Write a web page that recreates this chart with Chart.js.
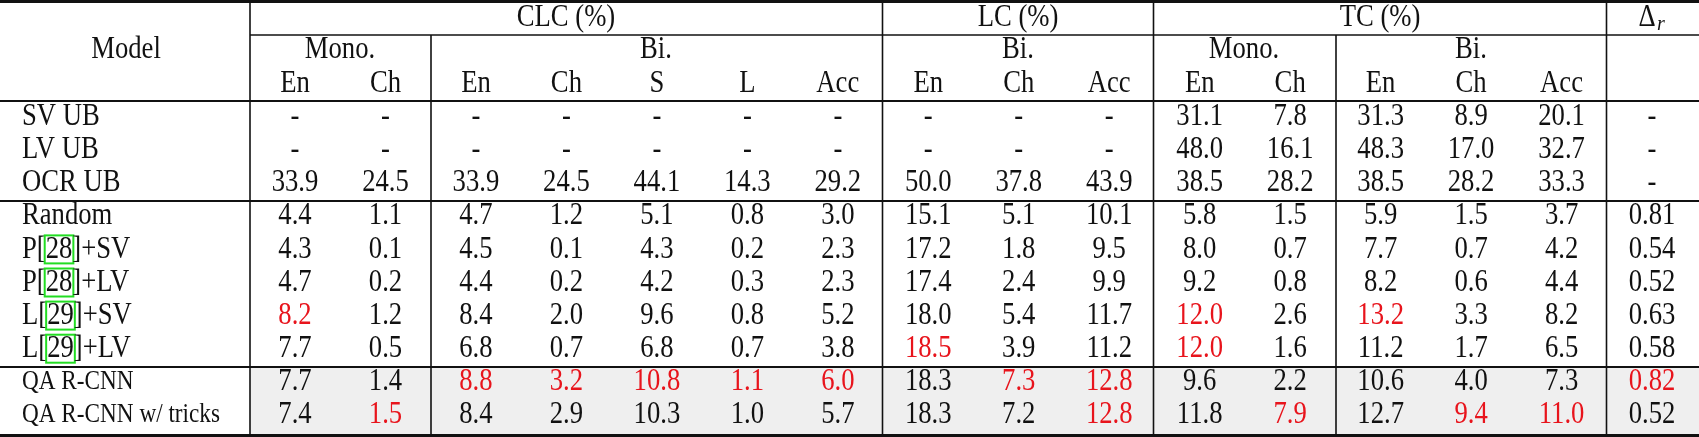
<!DOCTYPE html>
<html><head><meta charset="utf-8">
<script src="https://cdn.jsdelivr.net/npm/chart.js@4/dist/chart.umd.min.js"></script>
<style>html,body{margin:0;padding:0;background:#fff}#wrap{width:1699px;height:437px}</style>
</head><body><div id="wrap"><canvas id="c" width="1699" height="437"></canvas></div>
<script>
const subHeaders = ['En','Ch','En','Ch','S','L','Acc','En','Ch','Acc','En','Ch','En','Ch','Acc',''];
const labelPrefix = ['SV UB','LV UB','OCR UB','Random','P','P','L','L','QA R-CNN','QA R-CNN w/ tricks'];
const labelCite   = ['','','','','28','28','29','29','',''];
const labelSuffix = ['','','','','+SV','+LV','+SV','+LV','',''];
const svUB   = ['-','-','-','-','-','-','-','-','-','-','31.1','7.8','31.3','8.9','20.1','-'];
const lvUB   = ['-','-','-','-','-','-','-','-','-','-','48.0','16.1','48.3','17.0','32.7','-'];
const ocrUB  = ['33.9','24.5','33.9','24.5','44.1','14.3','29.2','50.0','37.8','43.9','38.5','28.2','38.5','28.2','33.3','-'];
const random = ['4.4','1.1','4.7','1.2','5.1','0.8','3.0','15.1','5.1','10.1','5.8','1.5','5.9','1.5','3.7','0.81'];
const p28sv  = ['4.3','0.1','4.5','0.1','4.3','0.2','2.3','17.2','1.8','9.5','8.0','0.7','7.7','0.7','4.2','0.54'];
const p28lv  = ['4.7','0.2','4.4','0.2','4.2','0.3','2.3','17.4','2.4','9.9','9.2','0.8','8.2','0.6','4.4','0.52'];
const l29sv  = ['8.2','1.2','8.4','2.0','9.6','0.8','5.2','18.0','5.4','11.7','12.0','2.6','13.2','3.3','8.2','0.63'];
const l29lv  = ['7.7','0.5','6.8','0.7','6.8','0.7','3.8','18.5','3.9','11.2','12.0','1.6','11.2','1.7','6.5','0.58'];
const qarcnn = ['7.7','1.4','8.8','3.2','10.8','1.1','6.0','18.3','7.3','12.8','9.6','2.2','10.6','4.0','7.3','0.82'];
const qaTricks=['7.4','1.5','8.4','2.9','10.3','1.0','5.7','18.3','7.2','12.8','11.8','7.9','12.7','9.4','11.0','0.52'];
const redCells = [[6,0],[6,10],[6,12],[7,7],[7,10],[8,2],[8,3],[8,4],[8,5],[8,6],[8,8],[8,9],[8,15],[9,1],[9,9],[9,11],[9,13],[9,14]];

const rows = [svUB,lvUB,ocrUB,random,p28sv,p28lv,l29sv,l29lv,qarcnn,qaTricks];
const pts = [];
rows.forEach((r,ri)=>r.forEach((v,ci)=>pts.push({x:ci,y:ri,t:v,red:redCells.some(c=>c[0]===ri&&c[1]===ci)})));

const FONT = '"Liberation Serif","DejaVu Serif",serif';
const SX = 0.86;
const FS = 31;
function txt(ctx,s,x,y,size,align,color){
  ctx.save();ctx.translate(x,y);ctx.scale(SX,1);
  ctx.font=size+'px '+FONT;ctx.fillStyle=color||'#111';ctx.textAlign=align||'center';ctx.textBaseline='middle';
  ctx.fillText(s,0,0);ctx.restore();
}
const tablePlugin = {
  id:'table',
  beforeDatasetsDraw(chart){
    const ctx=chart.ctx, xs=chart.scales.x, ys=chart.scales.y;
    const W=1699;
    ctx.save();
    ctx.fillStyle='#efefef';ctx.fillRect(250,367,W-250,68);
    ctx.strokeStyle='#111';
    const h=(y,x0,x1,w)=>{ctx.lineWidth=w;ctx.beginPath();ctx.moveTo(x0,y);ctx.lineTo(x1,y);ctx.stroke();};
    const v=(x,y0,y1)=>{ctx.lineWidth=1.6;ctx.beginPath();ctx.moveTo(x,y0);ctx.lineTo(x,y1);ctx.stroke();};
    h(1.5,0,W,3);h(35,250,W,1.6);h(101,0,W,2.2);h(201,0,W,2.2);h(367,0,W,2.2);h(435.5,0,W,3);
    v(250,1,436);v(431,35,436);v(882.5,1,436);v(1153.5,1,436);v(1336,35,436);v(1606.5,1,436);
    txt(ctx,'Model',126,50,FS);
    txt(ctx,'CLC (%)',566,18,FS);txt(ctx,'LC (%)',1018,18,FS);txt(ctx,'TC (%)',1380,18,FS);
    txt(ctx,'Δ',1647,18,FS);
    ctx.save();ctx.font='italic 20px '+FONT;ctx.fillStyle='#111';ctx.textBaseline='middle';ctx.fillText('r',1657,25);ctx.restore();
    txt(ctx,'Mono.',340,50,FS);txt(ctx,'Bi.',656,50,FS);txt(ctx,'Bi.',1018,50,FS);txt(ctx,'Mono.',1244,50,FS);txt(ctx,'Bi.',1471,50,FS);
    subHeaders.forEach((s,i)=>{ if(s) txt(ctx,s,xs.getPixelForValue(i),84,FS); });
    labelPrefix.forEach((p,i)=>{
      const y=ys.getPixelForValue(i); const size=i>=8?27:FS;
      let x=22;
      ctx.save();ctx.font=size+'px '+FONT;
      const wp=ctx.measureText(p).width*SX;
      txt(ctx,p,x,y,size,'left');x+=wp;
      if(labelCite[i]){
        const wb=ctx.measureText('[').width*SX;
        txt(ctx,'[',x,y,size,'left');x+=wb;
        const wc=ctx.measureText(labelCite[i]).width*SX;
        txt(ctx,labelCite[i],x,y,size,'left');
        ctx.strokeStyle='#22dd22';ctx.lineWidth=2;ctx.strokeRect(x-1,y-14,wc+2,28);
        x+=wc;
        txt(ctx,']',x,y,size,'left');x+=wb;
        txt(ctx,labelSuffix[i],x,y,size,'left');
      }
      ctx.restore();
    });
    ctx.restore();
  },
  afterDatasetsDraw(chart){
    const ctx=chart.ctx;const meta=chart.getDatasetMeta(0);
    meta.data.forEach((el,i)=>{const d=pts[i];txt(ctx,d.t,el.x,el.y,FS,'center',d.red?'#e8141c':'#111');});
  }
};
new Chart(document.getElementById('c'),{
  type:'scatter',
  data:{datasets:[{data:pts,pointRadius:0,pointHoverRadius:0}]},
  options:{responsive:false,animation:false,devicePixelRatio:1,
    layout:{padding:0},
    plugins:{legend:{display:false},tooltip:{enabled:false}},
    scales:{
      x:{type:'linear',display:false,min:-295/90.47,max:(1699-295)/90.47},
      y:{type:'linear',display:false,reverse:true,min:-117/33.1,max:(437-117)/33.1}
    }},
  plugins:[tablePlugin]
});
</script></body></html>
